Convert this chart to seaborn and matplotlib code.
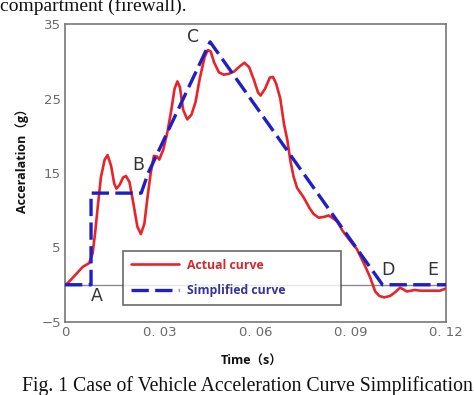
import matplotlib
matplotlib.use("Agg")
import matplotlib.pyplot as plt
import seaborn as sns
import pandas as pd

# ---- data ----
actual_t = [0.0000, 0.0008, 0.0030, 0.0056, 0.0076, 0.0087, 0.0095, 0.0103, 0.0113, 0.0125,
            0.0134, 0.0145, 0.0155, 0.0162, 0.0172, 0.0183, 0.0192, 0.0203, 0.0215, 0.0228,
            0.0239, 0.0250, 0.0260, 0.0270, 0.0280, 0.0290, 0.0297, 0.0310, 0.0323, 0.0335,
            0.0345, 0.0354, 0.0362, 0.0372, 0.0385, 0.0398, 0.0411, 0.0425, 0.0440, 0.0450,
            0.0459, 0.0470, 0.0485, 0.0500, 0.0515, 0.0532, 0.0550, 0.0565, 0.0580, 0.0595,
            0.0608, 0.0616, 0.0630, 0.0645, 0.0655, 0.0665, 0.0678, 0.0690, 0.0700, 0.0710,
            0.0720, 0.0731, 0.0752, 0.0770, 0.0783, 0.0799, 0.0815, 0.0830, 0.0845, 0.0857,
            0.0875, 0.0898, 0.0919, 0.0940, 0.0961, 0.0977, 0.0990, 0.1005, 0.1024, 0.1040,
            0.1055, 0.1065, 0.1076, 0.1090, 0.1102, 0.1120, 0.1139, 0.1160, 0.1181, 0.1200]
actual_g = [0.0, 0.2, 1.2, 2.4, 2.9, 4.2, 7.0, 10.4, 14.4, 16.8,
            17.4, 16.0, 13.6, 12.9, 13.4, 14.4, 14.6, 13.8, 11.0, 7.8,
            6.8, 8.2, 11.8, 15.0, 17.3, 17.2, 16.8, 18.2, 20.6, 23.5,
            26.3, 27.3, 26.5, 23.5, 22.2, 22.8, 24.5, 27.8, 30.6, 31.5,
            31.3, 29.8, 28.5, 28.2, 28.3, 28.6, 29.3, 29.8, 29.2, 27.5,
            25.8, 25.4, 26.3, 27.8, 27.9, 27.0, 25.0, 21.5, 19.5, 16.6,
            14.5, 13.0, 11.7, 10.3, 9.5, 9.0, 9.1, 9.3, 8.9, 8.5,
            7.2, 5.9, 4.8, 3.0, 1.0, -0.9, -1.5, -1.7, -1.5, -1.0,
            -0.4, -0.6, -0.9, -0.8, -0.7, -0.8, -0.8, -0.8, -0.8, -0.5]

simple_t = [0.0, 0.0082, 0.0082, 0.0240, 0.0262, 0.0457, 0.1000, 0.1200]
simple_g = [0.0, 0.0, 12.3, 12.3, 15.0, 32.6, 0.0, 0.0]

point_labels = ["A", "B", "C", "D", "E"]
point_t = [0.0101, 0.0230, 0.0403, 0.1017, 0.1159]
point_g = [-1.5, 16.1, 33.3, 2.0, 2.0]

xticks = [0, 0.03, 0.06, 0.09, 0.12]
xtick_labels = ["0", "0. 03", "0. 06", "0. 09", "0. 12"]
yticks = [-5, 5, 15, 25, 35]
ytick_labels = ["−5", "5", "15", "25", "35"]

series_names = ["Actual curve", "Simplified curve"]

RED = "#e8232a"
BLUE = "#1f1fc4"
GRAY = "#777777"

sns.set_style("white")
plt.rcParams["font.family"] = ["DejaVu Sans", "Noto Sans CJK SC"]

fig = plt.figure(figsize=(4.74, 3.95), dpi=100)
ax = fig.add_axes([65 / 474, 73 / 395, 381 / 474, 298 / 395])

df_a = pd.DataFrame({"t": actual_t, "g": actual_g})
df_s = pd.DataFrame({"t": simple_t, "g": simple_g})

ax.axhline(0, color="#8a8a8a", lw=1.0, zorder=1)
sns.lineplot(data=df_a, x="t", y="g", ax=ax, color=RED, lw=1.9,
             estimator=None, sort=False, label=series_names[0], zorder=3)
sns.lineplot(data=df_s, x="t", y="g", ax=ax, color=BLUE, lw=2.4,
             estimator=None, sort=False, label=series_names[1], zorder=4,
             dashes=False)
ax.lines[-1].set_dashes((5.2, 1.9))

ax.set_xlim(0, 0.12)
ax.set_ylim(-5, 35)
ax.set_xticks(xticks)
ax.set_xticklabels(xtick_labels)
ax.set_yticks(yticks)
ax.set_yticklabels(ytick_labels)
ax.tick_params(axis="both", colors=GRAY, labelcolor="#6a6a6a", labelsize=9.5,
               direction="inout", length=4, width=0.8, pad=1)

for s in ax.spines.values():
    s.set_color(GRAY)
    s.set_linewidth(1.2)

ax.set_xlabel("Time（s）", fontsize=9, fontweight="bold",
              family=["Open Sans", "Noto Sans CJK SC"], color="#111111")
ax.set_ylabel("Acceralation（g）", fontsize=9, fontweight="bold",
              family=["Open Sans", "Noto Sans CJK SC"], color="#111111")
ax.xaxis.set_label_coords(0.49, -0.11)
ax.yaxis.set_label_coords(-0.095, 0.55)

for lab, t, g in zip(point_labels, point_t, point_g):
    ax.text(t, g, lab, fontsize=12.5, color="#333333", ha="center", va="center",
            family="DejaVu Sans")

leg = ax.legend(loc="lower left", bbox_to_anchor=(0.137, 0.037, 0.603, 0.215),
                mode="expand", frameon=True, fancybox=False, handlelength=3.9,
                handletextpad=0.7, borderpad=0.65, labelspacing=1.0,
                prop={"family": ["Open Sans", "DejaVu Sans"], "weight": "bold", "size": 8.8})
leg.get_frame().set_edgecolor("#444444")
leg.get_frame().set_linewidth(1.2)
texts = leg.get_texts()
texts[0].set_color("#d4282f")
texts[1].set_color("#33339a")
leg.legend_handles[1].set_dashes((5.2, 1.9))

fig.text(0.0, 1 - 11 / 395, "compartment (firewall).", fontsize=14,
         family="Liberation Serif", va="baseline", ha="left", color="#111111")
fig.text(22 / 474, 1 - 391 / 395, "Fig. 1 Case of Vehicle Acceleration Curve Simplification",
         fontsize=14.2, family="Liberation Serif", va="baseline", ha="left", color="#111111")

fig.savefig("out.png", dpi=100)
